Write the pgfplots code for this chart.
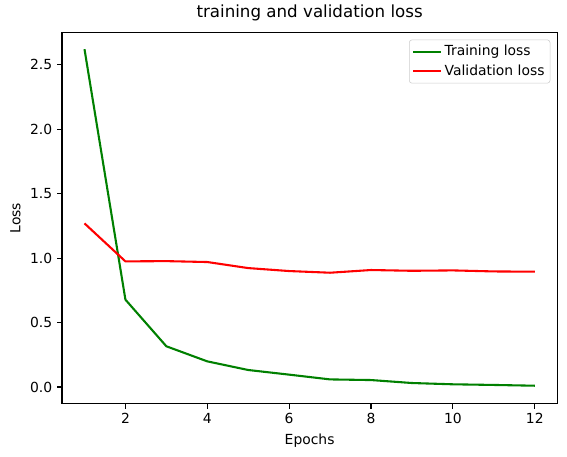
\documentclass[border=0pt]{standalone}
\usepackage{fontspec}
\setmainfont{DejaVu Sans}
\usepackage{pgfplots}
\pgfplotsset{compat=1.18}
\definecolor{mplgreen}{rgb}{0,0.5,0}
\begin{document}
\begin{tikzpicture}
\begin{axis}[
  scale only axis,
  width=356.4pt, height=267.1pt,
  xmin=0.45, xmax=12.55,
  ymin=-0.1305, ymax=2.7505,
  xtick={2,4,6,8,10,12},
  ytick={0,0.5,1,1.5,2,2.5},
  yticklabel style={/pgf/number format/.cd, fixed, fixed zerofill, precision=1},
  /pgf/number format/assume math mode=true,
  tick pos=left,
  tick align=outside,
  major tick length=3.5pt,
  tick style={black, line width=0.8pt},
  axis line style={line width=0.8pt},
  ticklabel style={font=\fontsize{10}{12}\selectfont},
  xlabel={Epochs}, ylabel={Loss},
  label style={font=\fontsize{10}{12}\selectfont},
  title={training and validation loss},
  title style={font=\fontsize{12}{14}\selectfont, yshift=-1pt},
  legend style={at={(1,1)}, anchor=north east, xshift=-5pt, yshift=-5pt,
    draw=black!20, rounded corners=2pt, fill=white, fill opacity=0.8, text opacity=1,
    font=\fontsize{10}{12}\selectfont, inner sep=2pt, row sep=1pt},
  legend cell align=left,
  legend image code/.code={\draw[#1] (0cm,0cm) -- (0.7cm,0cm);},
]
\addplot[mplgreen, line width=1.5pt] coordinates {
(1,2.622) (2,0.678) (3,0.316) (4,0.199) (5,0.132) (6,0.096) (7,0.059) (8,0.054) (9,0.031) (10,0.021) (11,0.016) (12,0.010)};
\addlegendentry{Training loss}
\addplot[red, line width=1.5pt] coordinates {
(1,1.270) (2,0.975) (3,0.977) (4,0.970) (5,0.923) (6,0.900) (7,0.887) (8,0.908) (9,0.902) (10,0.905) (11,0.897) (12,0.895)};
\addlegendentry{Validation loss}
\coordinate (sw) at (rel axis cs:0,0);
\coordinate (ne) at (rel axis cs:1,1);
\end{axis}
\path ([xshift=-44.6pt,yshift=-38.2pt]sw) rectangle ([xshift=7pt,yshift=21.6pt]ne);
\end{tikzpicture}
\end{document}
